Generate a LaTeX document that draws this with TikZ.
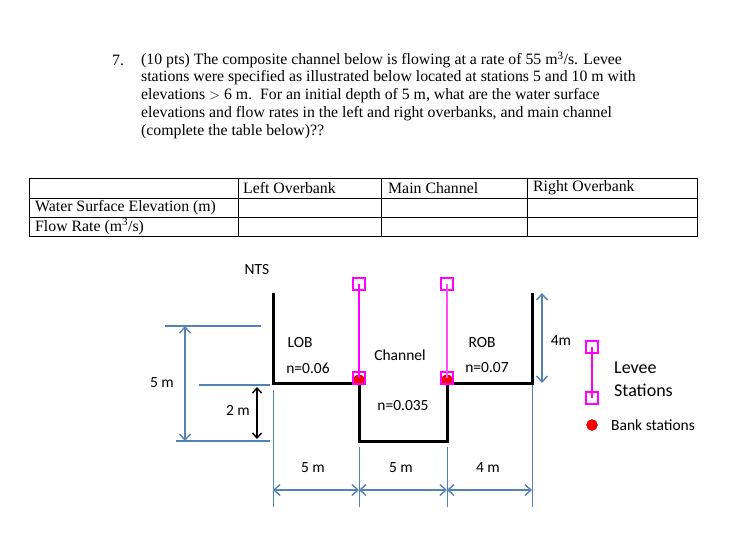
\documentclass[tikz,border=0pt]{standalone}
\usepackage{fontspec}
\setmainfont{Liberation Serif}
\newfontfamily\carfont{Carlito}
\usetikzlibrary{arrows.meta}
\definecolor{dimblue}{RGB}{84,130,180}
\definecolor{mag}{RGB}{255,0,255}
\begin{document}
\begin{tikzpicture}[x=1pt,y=-1pt,
 txt/.style={anchor=west,inner sep=0pt,font=\fontsize{15.8}{17}\selectfont},
 lab/.style={inner sep=0pt,font=\carfont\fontsize{15.5}{17}\selectfont},
 wall/.style={line width=3pt,line join=miter},
 dim/.style={dimblue,line width=1.4pt},
 dimarr/.style={dimblue,line width=1.4pt,{Straight Barb[length=6pt,width=11pt]}-{Straight Barb[length=6pt,width=11pt]}},
 lev/.style={mag,line width=1.4pt},
 sq/.style={draw=mag,line width=2.2pt,minimum size=12pt,inner sep=0pt},
 dot/.style={circle,fill=red,draw=red!70!black,minimum size=11pt,inner sep=0pt}]
\useasboundingbox (0,0) rectangle (737,547);
\fill[white] (0,0) rectangle (737,547);
% problem text
\node[txt] (n7) at (112,60) {7.};
\node[txt] (l1) at (141,60) {(10 pts) The composite channel below is flowing at a rate of 55 m\textsuperscript{3}/s. Levee};
\node[txt] (l2) at (141,78) {stations were specified as illustrated below located at stations 5 and 10 m with};
\node[txt] (l3) at (141,96) {elevations $>$ 6 m.\ \ For an initial depth of 5 m, what are the water surface};
\node[txt] (l4) at (141,114) {elevations and flow rates in the left and right overbanks, and main channel};
\node[txt] (l5) at (141,132) {(complete the table below)??};
% table
\draw[line width=0.9pt] (29,178) rectangle (697,236);
\draw[line width=0.9pt] (29,198) -- (697,198) (29,217) -- (697,217);
\draw[line width=0.9pt] (238,178) -- (238,236) (381,178) -- (381,236) (527,178) -- (527,236);
\node[txt] (h1) at (243,188) {Left Overbank};
\node[txt] (h2) at (388,188) {Main Channel};
\node[txt] (h3) at (533,188) {Right Overbank};
\node[txt] (r1) at (35,207.5) {Water Surface Elevation (m)};
\node[txt] (r2) at (35,226.5) {Flow Rate (m\textsuperscript{3}/s)};
% channel
\coordinate (a) at (273,293); \coordinate (b) at (273,383); \coordinate (c) at (359,383);
\coordinate (d) at (359,441); \coordinate (e) at (447,441); \coordinate (f) at (447,383);
\coordinate (g) at (532,383); \coordinate (h) at (532,293);
\draw[wall] (a) -- (b) -- (c) -- (d) -- (e) -- (f) -- (g) -- (h);
% dimension lines
\draw[dim] (165,326) -- (261,326);
\draw[dim] (199,385) -- (270,385);
\draw[dim] (176,441) -- (270,441);
\coordinate (v1) at (185,326); \coordinate (v2) at (185,441);
\draw[dimarr] (v1) -- (v2);
\node[lab] (m5) at (162,383) {5 m};
\coordinate (k1) at (257,387); \coordinate (k2) at (257,439);
\draw[line width=1.4pt,{Straight Barb[length=5pt,width=9pt]}-{Straight Barb[length=5pt,width=9pt]}] (k1) -- (k2);
\node[lab] (m2) at (238,410) {2 m};
\draw[dim,line width=1pt] (273,390) -- (273,507) (359,447) -- (359,507) (447,447) -- (447,507) (532,385) -- (532,507);
\coordinate (x1) at (273,490); \coordinate (x2) at (359,490); \coordinate (x3) at (447,490); \coordinate (x4) at (532,490);
\draw[dimarr] (x1) -- (x2); \draw[dimarr] (x2) -- (x3); \draw[dimarr] (x3) -- (x4);
\node[lab] (w1) at (313,468) {5 m};
\node[lab] (w2) at (401,468) {5 m};
\node[lab] (w3) at (488,468) {4 m};
\coordinate (y1) at (542,293); \coordinate (y2) at (542,383);
\draw[dimarr] (y1) -- (y2);
\node[lab] (m4) at (561,341) {4m};
% labels
\node[lab] (nts) at (257,270) {NTS};
\node[lab] (lob) at (300,343) {LOB};
\node[lab] (n1) at (308,368) {n=0.06};
\node[lab] (ch) at (400,355) {Channel};
\node[lab] (n2) at (403,406) {n=0.035};
\node[lab] (rob) at (482,343) {ROB};
\node[lab] (n3) at (487,368) {n=0.07};
% levees
\node[dot] (bd1) at (359,380) {};
\node[dot] (bd2) at (447,380) {};
\node[sq] (t1) at (359,284) {}; \node[sq] (b1) at (359,378) {};
\node[sq] (t2) at (447,284) {}; \node[sq] (b2) at (447,378) {};
\draw[lev] (t1.center) -- (b1.center);
\draw[lev,mag!70] (t2.center) -- (b2.center);
% legend
\node[sq] (lt) at (592,347) {}; \node[sq] (lb) at (592,398) {};
\draw[lev] (lt.center) -- (lb.center);
\node[lab,anchor=west,font=\carfont\fontsize{18}{20}\selectfont] (lv) at (614,368) {Levee};
\node[lab,anchor=west,font=\carfont\fontsize{18}{20}\selectfont] (ls) at (614,390) {Stations};
\node[dot] (ld) at (592,425) {};
\node[lab,anchor=west] (lbk) at (611,425) {Bank stations};
\end{tikzpicture}
\end{document}
